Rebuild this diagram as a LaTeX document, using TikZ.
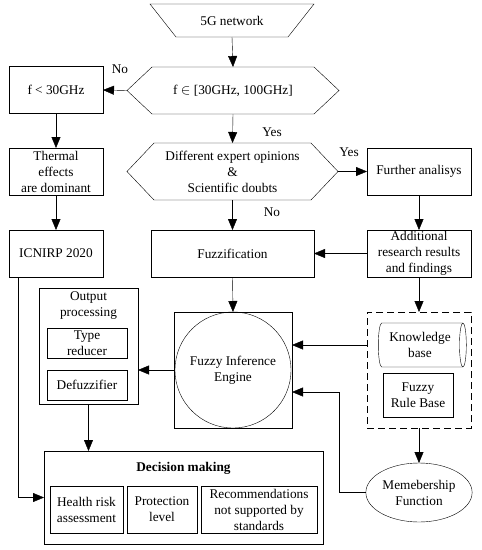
\documentclass[tikz,border=0pt]{standalone}
\usepackage{fontspec}
\setmainfont{Liberation Serif}
\usetikzlibrary{positioning, arrows.meta, shapes.geometric}
\tikzset{
x=1pt, y=-1pt, % pixel-like coordinates
line width=1.2pt,
every node/.style={font=\fontsize{13.3}{16}\selectfont, align=center, outer sep=0pt, inner sep=1pt},
flow/.style={-{Triangle[length=11pt,width=9pt]}}, % filled arrow heads
box/.style={draw, minimum width=94pt, minimum height=47pt},
widebox/.style={draw, minimum width=104pt, minimum height=47pt},
smallbox/.style={draw, minimum width=80pt, minimum height=30pt},
subbox/.style={draw, minimum height=47pt},
lbl/.style={inner sep=0pt},
}

\begin{document}
\begin{tikzpicture}
\useasboundingbox (0,0) rectangle (482,550);

% top part
\node[minimum width=164pt, minimum height=33pt] (net) at (232,20.5) {5G network};
\draw ([xshift=26pt]net.south west) -- (net.north west) -- (net.north east)
      -- ([xshift=-26pt]net.south east) -- cycle;

\node[minimum width=212pt, minimum height=47pt] (freq) at (233,90.5) {f $\in$ [30GHz, 100GHz]};
\draw (freq.west) -- ([xshift=25pt]freq.north west) -- ([xshift=-25pt]freq.north east)
      -- (freq.east) -- ([xshift=-25pt]freq.south east) -- ([xshift=25pt]freq.south west) -- cycle;

\node[minimum width=211pt, minimum height=57pt] (doubt) at (232.5,171.5)
     {Different expert opinions\\\&\\Scientific doubts};
\draw (doubt.west) -- ([xshift=27pt]doubt.north west) -- ([xshift=-27pt]doubt.north east)
      -- (doubt.east) -- ([xshift=-27pt]doubt.south east) -- ([xshift=27pt]doubt.south west) -- cycle;

\node[box] (low) at (56,90) {f < 30GHz};
\node[box] (therm) at (56,171.5) {Thermal\\effects\\are dominant};
\node[box] (icnirp) at (56,253.5) {ICNIRP 2020};

\node[widebox] (further) at (419,171.5) {Further analisys};
\node[box, minimum width=163pt] (fuzz) at (232.5,253.5) {Fuzzification};
\node[widebox] (addit) at (419,253.5) {Additional\\research results\\and findings};

% fuzzy system
\node[draw, minimum width=118pt, minimum height=116pt] (fie) at (233,370) {};
\node[draw, circle, minimum size=116pt] (engine) at (fie.center) {Fuzzy Inference\\Engine};

\node[draw, dash pattern=on 7pt off 4pt, minimum width=104pt, minimum height=116pt] (know) at (419,370) {};
\node[draw, cylinder, aspect=0.25, minimum width=44pt, minimum height=88pt] (kb) at (420,345) {Knowledge\\base};
\node[draw, minimum width=70pt, minimum height=44pt] (rules) at (418,395) {Fuzzy\\Rule Base};

\node[draw, ellipse, minimum width=104pt, minimum height=59pt] (memb) at (419,492.5) {Memebership\\Function};

\node[draw, minimum width=99pt, minimum height=116pt] (out) at (88.5,346) {};
\node (outtitle) at (88.5,306) {Output\\processing};
\node[smallbox] (type) at (87,343) {Type\\reducer};
\node[smallbox] (defuz) at (87,385) {Defuzzifier};

% decision making
\node[draw, minimum width=279pt, minimum height=93pt] (dec) at (183.5,497.5) {};
\node (dectitle) at (183.5,468) {\bfseries Decision making};
\node[subbox, minimum width=73pt] (health) at (86.5,509.5) {Health risk\\assessment};
\node[subbox, minimum width=70pt] (prot) at (162,509.5) {Protection\\level};
\node[subbox, minimum width=116pt] (recom) at (259,509.5) {Recommendations\\not supported by\\standards};

% labels
\node[lbl] (no1) at (120,69) {No};
\node[lbl] (yes1) at (272,132) {Yes};
\node[lbl] (yes2) at (349,152) {Yes};
\node[lbl] (no2) at (272,212) {No};

% connectors
\draw[flow] (net.south) -- (freq.north);
\draw[flow] (freq.west) -- (low.east);
\draw[flow] (low.south) -- (therm.north);
\draw[flow] (therm.south) -- (icnirp.north);
\draw[flow] (freq.south) -- (doubt.north);
\draw[flow] (doubt.east) -- (further.west);
\draw[flow] (further.south) -- (addit.north);
\draw[flow] (doubt.south) -- (fuzz.north);
\draw[flow] (addit.west) -- (fuzz.east);
\draw[flow] (fuzz.south) -- (fie.north);
\draw[flow] (addit.south) -- (know.north);
\draw[flow] (kb.west -| know.west) -- (kb.west -| fie.east);
\draw[flow] (fie.west) -- (fie.west -| out.east);
\draw[flow] (out.south) -- (out.south |- dec.north);
\draw[flow] ([xshift=-38pt]icnirp.south) |- (dec.west);
\draw[flow] (know.south) -- (memb.north);
\coordinate (turn) at (339,392);
\draw[flow] (memb.west) -| (turn) -- (turn -| fie.east);
\end{tikzpicture}
\end{document}
